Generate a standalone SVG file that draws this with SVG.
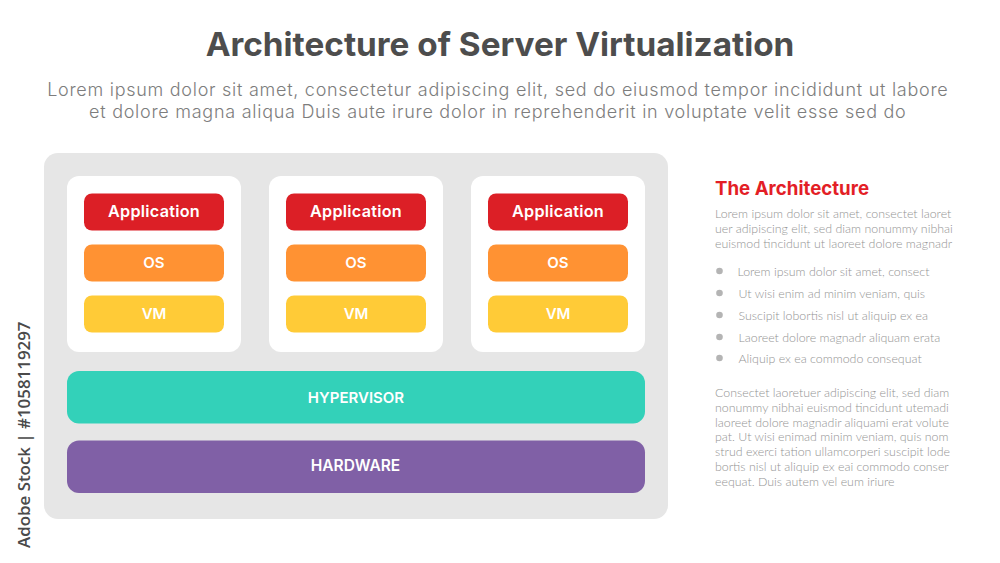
<svg xmlns="http://www.w3.org/2000/svg" width="1000" height="563" viewBox="0 0 1000 563">
<style>
.p{font-family:Lato,"Liberation Sans",sans-serif;font-weight:300;fill:#949494;font-size:12.400px}
.l{font-family:Inter,"Liberation Sans",sans-serif;font-weight:300;fill:#7d7d7d;font-size:18px;letter-spacing:.73px;text-anchor:middle}
.t{font-family:Inter,"Liberation Sans",sans-serif;font-weight:600;fill:#fff;text-anchor:middle;font-size:15px}
.big{font-size:16.200px;letter-spacing:.25px}
.card{fill:#fff}
.a{fill:#dc1f26}.o{fill:#ff9233}.v{fill:#ffcb37}
circle{fill:#b4b4b4}
</style>
<rect width="1000" height="563" fill="#fff"/>
<text x="500" y="56" text-anchor="middle" font-family="Inter,'Liberation Sans',sans-serif" font-weight="700" font-size="33.300" fill="#4d4d4d">Architecture of Server Virtualization</text>
<text class="l" x="497.800" y="96">Lorem ipsum dolor sit amet, consectetur adipiscing elit, sed do eiusmod tempor incididunt ut labore</text>
<text class="l" x="497.800" y="118">et dolore magna aliqua Duis aute irure dolor in reprehenderit in voluptate velit esse sed do</text>
<g id="frame"><rect x="44" y="153" width="624" height="366" rx="14" fill="#e6e6e6"/></g>
<g id="stack1">
<rect class="card" x="67" y="176" width="174" height="176" rx="12"/>
<g id="app1"><rect class="a" x="84" y="193.500" width="140" height="37" rx="8"/><text class="t big" x="154" y="217">Application</text></g>
<g id="os1"><rect class="o" x="84" y="244.500" width="140" height="37" rx="8"/><text class="t" x="154" y="268">OS</text></g>
<g id="vm1"><rect class="v" x="84" y="295.500" width="140" height="37" rx="8"/><text class="t" x="154" y="319">VM</text></g>
</g>
<g id="stack2">
<rect class="card" x="269" y="176" width="174" height="176" rx="12"/>
<g id="app2"><rect class="a" x="286" y="193.500" width="140" height="37" rx="8"/><text class="t big" x="356" y="217">Application</text></g>
<g id="os2"><rect class="o" x="286" y="244.500" width="140" height="37" rx="8"/><text class="t" x="356" y="268">OS</text></g>
<g id="vm2"><rect class="v" x="286" y="295.500" width="140" height="37" rx="8"/><text class="t" x="356" y="319">VM</text></g>
</g>
<g id="stack3">
<rect class="card" x="471" y="176" width="174" height="176" rx="12"/>
<g id="app3"><rect class="a" x="488" y="193.500" width="140" height="37" rx="8"/><text class="t big" x="558" y="217">Application</text></g>
<g id="os3"><rect class="o" x="488" y="244.500" width="140" height="37" rx="8"/><text class="t" x="558" y="268">OS</text></g>
<g id="vm3"><rect class="v" x="488" y="295.500" width="140" height="37" rx="8"/><text class="t" x="558" y="319">VM</text></g>
</g>
<g id="hypervisor"><rect x="67" y="371" width="578" height="52.500" rx="12" fill="#33d1b9"/><text class="t" x="356" y="402.500">HYPERVISOR</text></g>
<g id="hardware"><rect x="67" y="440.500" width="578" height="52.500" rx="12" fill="#8060a6"/><text class="t" x="355.500" y="470.500" style="font-size:15.500px">HARDWARE</text></g>
<g id="side">
<text x="715" y="195" font-family="Inter,'Liberation Sans',sans-serif" font-weight="700" font-size="18.700" fill="#e31e26">The Architecture</text>
<text class="p" x="715" y="218">Lorem ipsum dolor sit amet, consectet laoret</text>
<text class="p" x="715" y="233">uer adipiscing elit, sed diam nonummy nibhai</text>
<text class="p" x="715" y="248">euismod tincidunt ut laoreet dolore magnadr</text>
<circle cx="719.500" cy="271" r="3.300"/><text class="p" x="737.500" y="276">Lorem ipsum dolor sit amet, consect</text>
<circle cx="719.500" cy="293" r="3.300"/><text class="p" x="738.500" y="298">Ut wisi enim ad minim veniam, quis</text>
<circle cx="719.500" cy="315" r="3.300"/><text class="p" x="738.500" y="320">Suscipit lobortis nisl ut aliquip ex ea</text>
<circle cx="719.500" cy="337" r="3.300"/><text class="p" x="738.500" y="342">Laoreet dolore magnadr aliquam erata</text>
<circle cx="719.500" cy="358" r="3.300"/><text class="p" x="738.500" y="363">Aliquip ex ea commodo consequat</text>
<text class="p" x="715" y="397">Consectet laoretuer adipiscing elit, sed diam</text>
<text class="p" x="715" y="412">nonummy nibhai euismod tincidunt utemadi</text>
<text class="p" x="715" y="427">laoreet dolore magnadir aliquami erat volute</text>
<text class="p" x="715" y="441">pat. Ut wisi enimad minim veniam, quis nom</text>
<text class="p" x="715" y="456">strud exerci tation ullamcorperi suscipit lode</text>
<text class="p" x="715" y="471">bortis nisl ut aliquip ex eai commodo conser</text>
<text class="p" x="715" y="486">eequat. Duis autem vel eum iriure</text>
</g>
<text transform="translate(30 548) rotate(-90)" font-family="'Open Sans','Liberation Sans',sans-serif" font-weight="600" font-size="16.900" fill="#4a4a4a">Adobe Stock | #1058119297</text>
</svg>
